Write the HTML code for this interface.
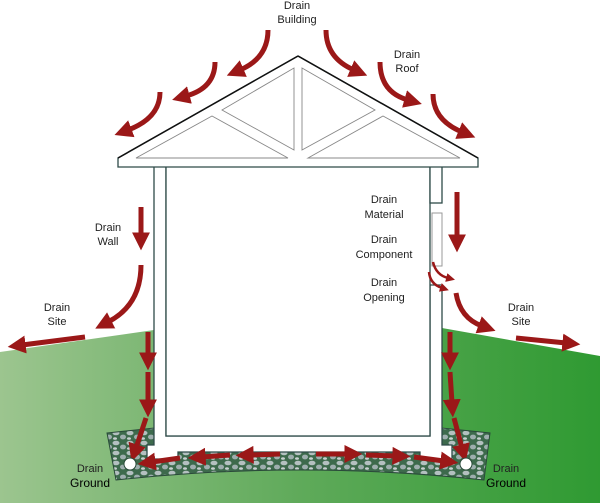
<!DOCTYPE html>
<html><head><meta charset="utf-8"><style>
html,body{margin:0;padding:0;background:#fff;}
svg{display:block;font-family:"Liberation Sans",sans-serif;}
</style></head><body>
<svg width="600" height="503" viewBox="0 0 600 503" xmlns="http://www.w3.org/2000/svg">
<defs>
<linearGradient id="g" x1="0" x2="1" y1="0" y2="0">
<stop offset="0" stop-color="#9cc58f"/><stop offset="0.5" stop-color="#5faa5a"/><stop offset="1" stop-color="#2f9a32"/>
</linearGradient>
<pattern id="st" width="14" height="10" patternUnits="userSpaceOnUse">
<rect width="14" height="10" fill="#3d6a4c"/>
<ellipse cx="4" cy="3" rx="3.5" ry="2.3" fill="#b4c0c0"/>
<ellipse cx="11" cy="7" rx="3" ry="2.4" fill="#9eaeae"/>
<ellipse cx="3" cy="8.5" rx="2" ry="1.3" fill="#c8d0d0"/>
</pattern>
<marker id="a" viewBox="0 0 10 10" refX="2" refY="5" markerWidth="3.6" markerHeight="3.6" orient="auto" markerUnits="strokeWidth">
<path d="M0,0 L10,5 L0,10 z" fill="#9b1818"/>
</marker>
</defs>
<!-- ground -->
<path d="M0,352 L154,330 L442,328 L600,356 L600,503 L0,503 z" fill="url(#g)"/>
<!-- gravel -->
<path d="M107,433 L154,428 L154,445 L178,445 L178,443 L420,443 L420,445 L442,445 L442,428 L490,433 L484,480 Q300,460 116,480 z" fill="url(#st)" stroke="#2a4a3a" stroke-width="1"/>
<!-- house -->
<rect x="154" y="165" width="288" height="280" fill="#fff"/>
<path d="M154,165 L154,445 L147,445 L147,459 L178,459 L178,452 L420,452 L420,459 L452,459 L452,445 L442,445 L442,285 L430,285 L430,436 L166,436 L166,165 z" fill="#fff" stroke="#2e4a48" stroke-width="1.3"/>
<rect x="166" y="166" width="264" height="270" fill="#fff" stroke="#2e4a48" stroke-width="1.3"/>
<rect x="430" y="160" width="12" height="43" fill="#fff" stroke="#2e4a48" stroke-width="1.3"/>
<rect x="432" y="213" width="10" height="53" fill="#fff" stroke="#999" stroke-width="1"/>
<!-- roof -->
<path d="M298,56 L478,158 L478,167 L118,167 L118,158 z" fill="#fff" stroke="#2e4a48" stroke-width="1.3"/>
<path d="M298,56 L478,158" stroke="#111" stroke-width="1.5"/>
<path d="M298,56 L118,158" stroke="#111" stroke-width="1.5"/>
<g fill="none" stroke="#888" stroke-width="0.9">
<path d="M136,158 L212,116 L288,158 z"/>
<path d="M222,110 L294,68 L294,150 z"/>
<path d="M302,68 L375,110 L302,150 z"/>
<path d="M308,158 L383,116 L460,158 z"/>
</g>
<!-- arrows -->
<g fill="none" stroke="#9b1818" stroke-width="5" marker-end="url(#a)">
<path d="M268,30 Q268,58 240,70"/>
<path d="M215,62 Q215,88 186,96"/>
<path d="M160,92 Q160,118 128,130"/>
<path d="M326,30 Q326,58 354,70"/>
<path d="M380,62 Q380,92 408,100"/>
<path d="M433,94 Q433,120 462,132"/>
<path d="M141,207 L141,236"/>
<path d="M141,265 Q141,305 108,322"/>
<path d="M85,337 L22,345"/>
<path d="M457,192 L457,238"/>
<path d="M456,293 Q460,318 482,326"/>
<path d="M516,338 L566,343"/>
<path d="M148,332 L148,356"/>
<path d="M148,372 L148,403"/>
<path d="M146,418 L136,448"/>
<path d="M450,332 L450,356"/>
<path d="M450,372 L452,403"/>
<path d="M454,418 L462,448"/>
<path d="M180,458 L152,462"/>
<path d="M230,455 L202,457"/>
<path d="M280,454 L250,455"/>
<path d="M316,454 L348,454"/>
<path d="M366,455 L396,456"/>
<path d="M414,457 L444,461"/>
</g>
<g fill="none" stroke="#9b1818" stroke-width="2.5">
<path d="M433,262 Q436,275 448,278" marker-end="url(#a)"/>
<path d="M429,272 Q430,284 442,288" marker-end="url(#a)"/>
</g>
<!-- drains -->
<circle cx="130" cy="464" r="6" fill="#fff" stroke="#2a4a3a"/>
<circle cx="466" cy="464" r="6" fill="#fff" stroke="#2a4a3a"/>
<!-- labels -->
<g font-size="11" fill="#222" text-anchor="middle">
<text x="297" y="9">Drain</text><text x="297" y="23">Building</text>
<text x="407" y="58">Drain</text><text x="407" y="72">Roof</text>
<text x="108" y="231">Drain</text><text x="108" y="245">Wall</text>
<text x="384" y="203">Drain</text><text x="384" y="218">Material</text>
<text x="384" y="243">Drain</text><text x="384" y="258">Component</text>
<text x="384" y="286">Drain</text><text x="384" y="301">Opening</text>
<text x="57" y="311">Drain</text><text x="57" y="325">Site</text>
<text x="521" y="311">Drain</text><text x="521" y="325">Site</text>
<text x="90" y="472">Drain</text><text x="90" y="487" font-size="12" fill="#000">Ground</text>
<text x="506" y="472">Drain</text><text x="506" y="487" font-size="12" fill="#000">Ground</text>
</g>
</svg>
</body></html>
